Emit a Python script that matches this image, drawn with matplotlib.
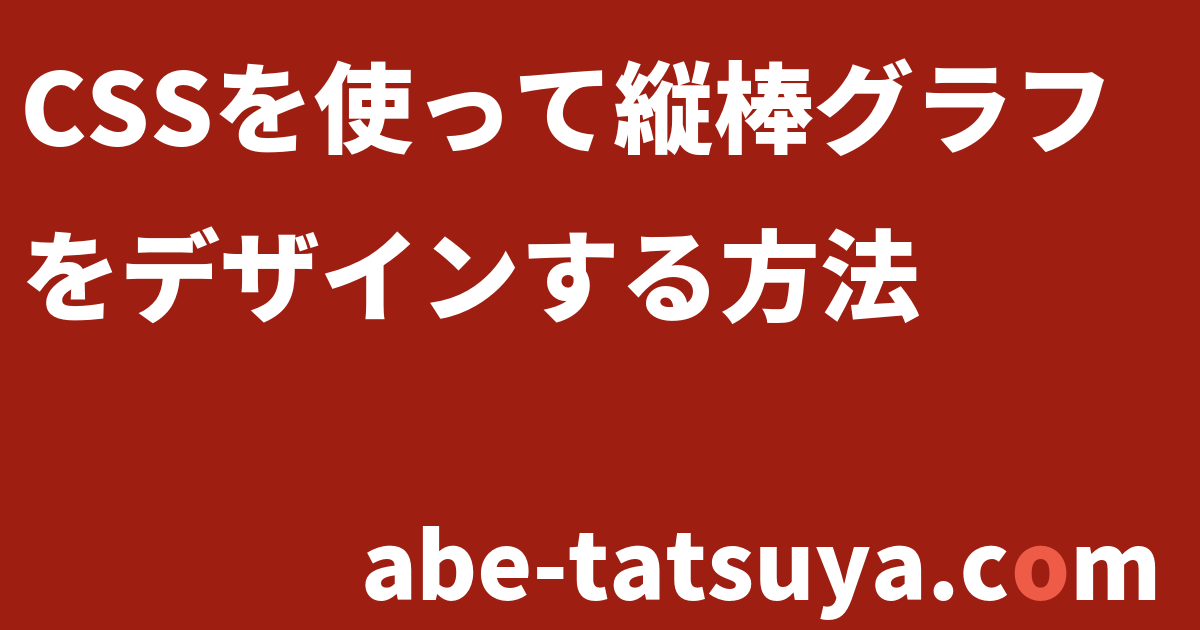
import matplotlib
matplotlib.use('Agg')
import matplotlib.pyplot as plt

title_lines = ['CSSを使って縦棒グラフ', 'をデザインする方法']
site_parts = ['abe-tatsuya.c', 'o', 'm']

BG = '#9e1e12'
ACCENT = '#ee5c48'

plt.rcParams['font.family'] = ['Noto Sans CJK JP', 'DejaVu Sans']


def main():
    fig = plt.figure(figsize=(12, 6.3), dpi=100)
    fig.patch.set_facecolor(BG)

    # title, two lines
    ys = [146, 314]
    for line, y in zip(title_lines, ys):
        fig.text(20 / 1200, 1 - y / 630, line, color='white', fontsize=72,
                 fontweight='black', ha='left', va='baseline')

    # site name, the "o" in accent colour
    fig.canvas.draw()
    r = fig.canvas.get_renderer()
    colors = ['white', ACCENT, 'white']
    x = 361
    for part, c in zip(site_parts, colors):
        t = fig.text(x / 1200, 1 - 600 / 630, part, color=c, fontsize=66.8,
                     fontweight='black', ha='left', va='baseline')
        bb = t.get_window_extent(renderer=r)
        x += bb.width

    fig.savefig('out.png', dpi=100, facecolor=BG)


if __name__ == '__main__':
    main()
